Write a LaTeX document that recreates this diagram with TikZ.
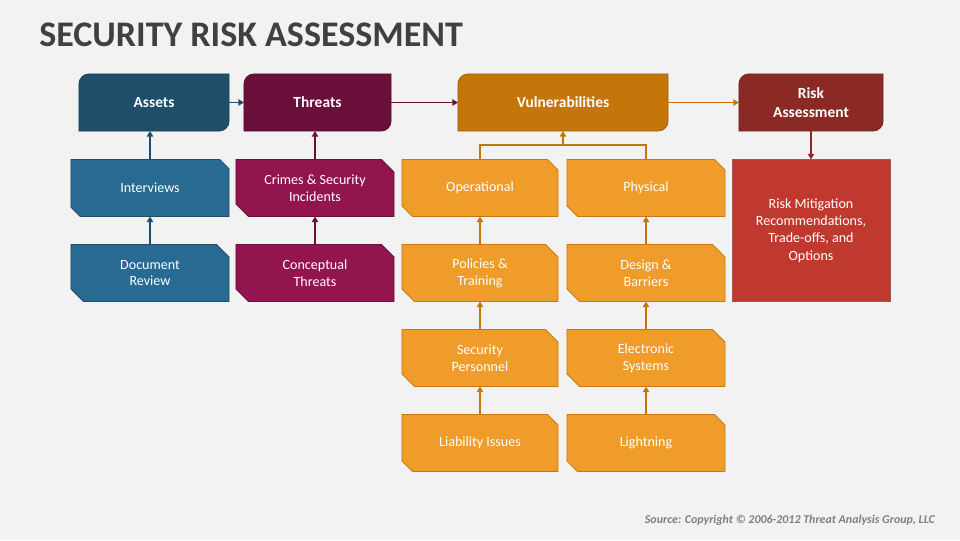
\documentclass[tikz,border=0pt]{standalone}
\usepackage{fontspec}
\setmainfont{Carlito}
\usepackage{tikz}
\usetikzlibrary{arrows.meta,backgrounds,calc,shapes.misc}

\definecolor{bg}{HTML}{F2F2F2}
\definecolor{titlegrey}{HTML}{404040}
\definecolor{sourcegrey}{HTML}{7F7F7F}
\definecolor{assetsdark}{HTML}{1F4E6B}
\definecolor{assetslight}{HTML}{286A92}
\definecolor{threatsdark}{HTML}{6B0F3B}
\definecolor{threatslight}{HTML}{931550}
\definecolor{vulndark}{HTML}{C4760A}
\definecolor{vulnlight}{HTML}{F09C2A}
\definecolor{vulnline}{HTML}{C87A12}
\definecolor{riskdark}{HTML}{8B2A25}
\definecolor{risklight}{HTML}{C0392F}

\tikzset{
  head/.style={minimum height=1.425cm, inner sep=0, outer sep=0, text=white, align=center,
    font=\bfseries\fontsize{11}{13}\selectfont},
  sub/.style={chamfered rectangle, chamfered rectangle corners={north east,south west},
    chamfered rectangle xsep=0.2cm, minimum width=3.95cm, minimum height=1.425cm,
    inner sep=0, outer sep=0, line width=0.6pt, text=white, align=center,
    font=\fontsize{10}{12}\selectfont},
  asset/.style={sub, fill=assetslight, draw=assetsdark},
  threat/.style={sub, fill=threatslight, draw=threatsdark},
  weak/.style={sub, fill=vulnlight, draw=vulnline, minimum width=3.9cm},
  link/.style={line width=1.1pt, -{Triangle[length=4pt,width=4.5pt]}},
}

\begin{document}
\begin{tikzpicture}[x=0.025cm, y=-0.025cm]
\useasboundingbox (0,0) rectangle (960,540);

\node[anchor=base west, inner sep=0, text=titlegrey, font=\bfseries\fontsize{25.6}{30}\selectfont] (title) at (39,46) {SECURITY RISK ASSESSMENT};

% top row
\node[head, minimum width=3.75cm] (assets) at (154,102.5) {Assets};
\node[head, minimum width=3.675cm] (threats) at (317.5,102.5) {Threats};
\node[head, minimum width=5.25cm] (vuln) at (563,102.5) {Vulnerabilities};
\node[head, minimum width=3.6cm] (risk) at (811,102.5) {Risk\\Assessment};

\begin{scope}[on background layer]
\fill[bg] (0,0) rectangle (960,540);
\foreach \n/\c in {assets/assetsdark, threats/threatsdark, vuln/vulndark, risk/riskdark}
  \filldraw[fill=\c, draw=\c!85!black, line width=0.6pt]
    (\n.south west) -- ([yshift=-7pt]\n.north west) arc[start angle=180, end angle=90, radius=7pt]
    -- (\n.north east) -- ([yshift=7pt]\n.south east) arc[start angle=0, end angle=-90, radius=7pt] -- cycle;
\end{scope}

% columns
\node[asset] (interviews) at (150,188) {Interviews};
\node[asset] (docreview) at (150,273) {Document\\Review};
\node[threat] (crimes) at (315,188) {Crimes \& Security\\Incidents};
\node[threat] (conceptual) at (315,273) {Conceptual\\Threats};
\node[weak] (operational) at (480,188) {Operational};
\node[weak] (policies) at (480,273) {Policies \&\\Training};
\node[weak] (personnel) at (480,358) {Security\\Personnel};
\node[weak] (liability) at (480,443) {Liability Issues};
\node[weak, minimum width=3.95cm] (physical) at (646,188) {Physical};
\node[weak, minimum width=3.95cm] (design) at (646,273) {Design \&\\Barriers};
\node[weak, minimum width=3.95cm] (electronic) at (646,358) {Electronic\\Systems};
\node[weak, minimum width=3.95cm] (lightning) at (646,443) {Lightning};
\node[fill=risklight, draw=riskdark!80, line width=0.6pt, minimum width=3.95cm, minimum height=3.55cm,
  inner sep=0, outer sep=0, text=white, align=center, font=\fontsize{10}{12.3}\selectfont]
  (mitigation) at (811,230.5) {Risk Mitigation\\Recommendations,\\Trade-offs, and\\Options};

\node[anchor=base east, inner sep=0, text=sourcegrey, font=\bfseries\itshape\fontsize{8.5}{10}\selectfont]
  (source) at (935,523) {Source: Copyright © 2006-2012 Threat Analysis Group, LLC};

% connectors
\draw[link, assetsdark] (assets) -- (threats);
\draw[link, threatsdark] (threats) -- (vuln);
\draw[link, vulndark] (vuln) -- (risk);
\draw[link, riskdark] (risk.south) -- (risk.south |- mitigation.north);
\draw[link, assetsdark] (interviews.north) -- (interviews.north |- assets.south);
\draw[link, assetsdark] (docreview) -- (interviews);
\draw[link, threatsdark] (crimes.north) -- (crimes.north |- threats.south);
\draw[link, threatsdark] (conceptual) -- (crimes);
\coordinate (join) at (563,145);
\draw[line width=1.1pt, vulndark] (operational.north) |- (join) -| (physical.north);
\draw[link, vulndark] (join) -- (vuln.south);
\draw[link, vulndark] (policies) -- (operational);
\draw[link, vulndark] (personnel) -- (policies);
\draw[link, vulndark] (liability) -- (personnel);
\draw[link, vulndark] (design) -- (physical);
\draw[link, vulndark] (electronic) -- (design);
\draw[link, vulndark] (lightning) -- (electronic);
\end{tikzpicture}
\end{document}
